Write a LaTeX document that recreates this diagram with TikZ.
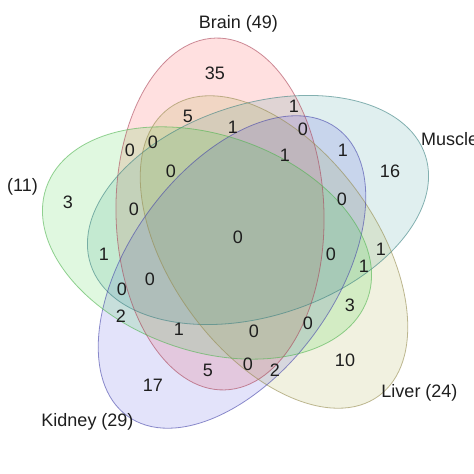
\documentclass[tikz,border=0pt]{standalone}
\usepackage{fontspec}
\setmainfont{Liberation Sans}
\definecolor{cBrainF}{RGB}{255,0,0}
\definecolor{cMuscleF}{RGB}{0,130,130}
\definecolor{cLiverF}{RGB}{147,147,0}
\definecolor{cKidneyF}{RGB}{30,30,215}
\definecolor{cLungF}{RGB}{0,200,0}
\definecolor{cBrainL}{RGB}{170,70,90}
\definecolor{cMuscleL}{RGB}{60,130,130}
\definecolor{cLiverL}{RGB}{150,140,80}
\definecolor{cKidneyL}{RGB}{70,70,170}
\definecolor{cLungL}{RGB}{80,180,80}
\definecolor{txt}{RGB}{30,30,30}
\begin{document}
\begin{tikzpicture}[x=1pt,y=1pt,
  lbl/.style={font=\fontsize{18}{20}\selectfont, text=txt, inner sep=0pt, text depth=0pt},
  setfill/.style={fill=#1, fill opacity=0.12},
  setline/.style={draw=#1, line width=0.8pt, draw opacity=0.6},
]
\useasboundingbox (0,0) rectangle (474,474);
\fill[white] (0,0) rectangle (474,474);
% set shapes: centre, rotation, radii
\def\brainE{rotate around={91.5:(220,260)}}
% fills
\path[setfill=cBrainF, rotate around={91.5:(220,260)}] (220,260) ellipse [x radius=176, y radius=104];
\path[setfill=cMuscleF, rotate around={18:(258,264)}] (258,264) ellipse [x radius=176, y radius=106];
\path[setfill=cLiverF, rotate around={-54:(274,222)}] (274,222) ellipse [x radius=178, y radius=103];
\path[setfill=cKidneyF, rotate around={54:(232,202)}] (232,202) ellipse [x radius=178, y radius=103];
\path[setfill=cLungF, rotate around={-19:(207,231)}] (207,231) ellipse [x radius=170, y radius=108];
% outlines
\path[setline=cBrainL, rotate around={91.5:(220,260)}] (220,260) ellipse [x radius=176, y radius=104];
\path[setline=cMuscleL, rotate around={18:(258,264)}] (258,264) ellipse [x radius=176, y radius=106];
\path[setline=cLiverL, rotate around={-54:(274,222)}] (274,222) ellipse [x radius=178, y radius=103];
\path[setline=cKidneyL, rotate around={54:(232,202)}] (232,202) ellipse [x radius=178, y radius=103];
\path[setline=cLungL, rotate around={-19:(207,231)}] (207,231) ellipse [x radius=170, y radius=108];
% region counts
\node[lbl] (r1) at (215,401) {35};
\node[lbl] (r2) at (188,358) {5};
\node[lbl] (r3) at (233,347) {1};
\node[lbl] (r4) at (294,368) {1};
\node[lbl] (r5) at (303,345) {0};
\node[lbl] (r6) at (130,324) {0};
\node[lbl] (r7) at (153,332) {0};
\node[lbl] (r8) at (171,303) {0};
\node[lbl] (r9) at (285,319) {1};
\node[lbl] (r10) at (343,324) {1};
\node[lbl] (r11) at (390,303) {16};
\node[lbl] (r12) at (342,275) {0};
\node[lbl] (r13) at (68,272) {3};
\node[lbl] (r14) at (134,265) {0};
\node[lbl] (r15) at (238,237) {0};
\node[lbl] (r16) at (104,220) {1};
\node[lbl] (r17) at (150,195) {0};
\node[lbl] (r18) at (122,185) {0};
\node[lbl] (r19) at (121,158) {2};
\node[lbl] (r20) at (179,145) {1};
\node[lbl] (r21) at (208,104) {5};
\node[lbl] (r22) at (153,89) {17};
\node[lbl] (r23) at (331,220) {0};
\node[lbl] (r24) at (381,225) {1};
\node[lbl] (r25) at (364,208) {1};
\node[lbl] (r26) at (350,169) {3};
\node[lbl] (r27) at (308,151) {0};
\node[lbl] (r28) at (254,143) {0};
\node[lbl] (r29) at (248,110) {0};
\node[lbl] (r30) at (275,104) {2};
\node[lbl] (r31) at (345,114) {10};
% set names
\node[lbl] (brain) at (238.5,452) {Brain (49)};
\node[lbl, anchor=west] (muscle) at (421,335) {Muscle};
\node[lbl, anchor=east] (lung) at (38,289) {(11)};
\node[lbl] (kidney) at (87.5,54) {Kidney (29)};
\node[lbl] (liver) at (419.5,83) {Liver (24)};
\end{tikzpicture}
\end{document}
